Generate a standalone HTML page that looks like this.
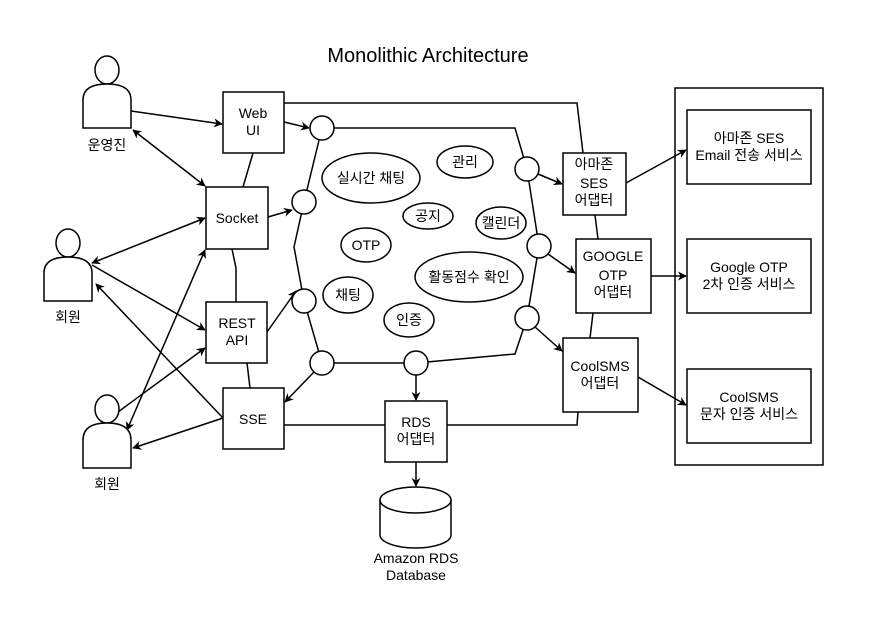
<!DOCTYPE html>
<html><head><meta charset="utf-8"><style>
html,body{margin:0;padding:0;background:#fff;}
svg{display:block;}
text{font-family:"Liberation Sans","Noto Sans CJK KR",sans-serif;fill:#000;}
</style></head><body>
<svg width="874" height="620" viewBox="0 0 874 620" xmlns="http://www.w3.org/2000/svg">
<defs>
<marker id="a" viewBox="0 0 10 10" refX="9" refY="5" markerWidth="9" markerHeight="9" orient="auto-start-reverse" markerUnits="userSpaceOnUse">
<path d="M0,0 L10,5 L0,10 L3,5 z" fill="#000"/>
</marker>
</defs>
<rect width="874" height="620" fill="#fff"/>
<text x="428" y="62" font-size="20" text-anchor="middle">Monolithic Architecture</text>

<g fill="none" stroke="#000" stroke-width="1.5">
<polyline points="284,103 577,103 583,153"/>
<line x1="595" y1="215" x2="598" y2="239"/>
<line x1="593" y1="313" x2="590" y2="338"/>
<polyline points="578,412 577,425 284,425"/>
<line x1="253" y1="153" x2="243" y2="187"/>
<polyline points="232,249 236,268 236,302"/>
<line x1="247" y1="363" x2="250" y2="388"/>
<polyline points="322,128 515,128 527,169 539,246 527,318 515,354 416,363 322,363 304,301 294,247 304,202 322,128"/>
</g>

<g fill="#fff" stroke="#000" stroke-width="1.5">
<ellipse cx="371" cy="178" rx="49" ry="25"/>
<ellipse cx="465" cy="162" rx="28" ry="16"/>
<ellipse cx="428" cy="216" rx="25" ry="13"/>
<ellipse cx="501" cy="223" rx="25" ry="16"/>
<ellipse cx="366" cy="245" rx="25" ry="17"/>
<ellipse cx="469" cy="277" rx="54" ry="25"/>
<ellipse cx="348" cy="295" rx="25" ry="18"/>
<ellipse cx="409" cy="320" rx="25" ry="17"/>
</g>
<g font-size="14" text-anchor="middle">
<text x="371" y="183">실시간 채팅</text>
<text x="465" y="167">관리</text>
<text x="428" y="221">공지</text>
<text x="501" y="228">캘린더</text>
<text x="366" y="250">OTP</text>
<text x="469" y="282">활동점수 확인</text>
<text x="348" y="300">채팅</text>
<text x="409" y="325">인증</text>
</g>

<g fill="#fff" stroke="#000" stroke-width="1.5">
<rect x="223" y="92" width="61" height="61"/>
<rect x="206" y="187" width="62" height="62"/>
<rect x="206" y="302" width="61" height="61"/>
<rect x="223" y="388" width="61" height="61"/>
<rect x="385" y="401" width="62" height="61"/>
<rect x="563" y="153" width="63" height="62"/>
<rect x="576" y="239" width="75" height="74"/>
<rect x="563" y="338" width="75" height="74"/>
<rect x="675" y="88" width="148" height="377" fill="none"/>
<rect x="687" y="110" width="124" height="74"/>
<rect x="687" y="239" width="124" height="74"/>
<rect x="687" y="369" width="124" height="74"/>
</g>

<g fill="none" stroke="#000" stroke-width="1.5">
<line x1="131" y1="111" x2="222" y2="124" marker-end="url(#a)"/>
<line x1="133" y1="130" x2="205" y2="186" marker-start="url(#a)" marker-end="url(#a)"/>
<line x1="92" y1="263" x2="205" y2="218" marker-start="url(#a)" marker-end="url(#a)"/>
<line x1="92" y1="265" x2="205" y2="330" marker-end="url(#a)"/>
<line x1="223" y1="418" x2="96" y2="284" marker-end="url(#a)"/>
<line x1="118" y1="412" x2="205" y2="348" marker-end="url(#a)"/>
<path d="M127,430 Q170,330 205,250" marker-start="url(#a)" marker-end="url(#a)"/>
<line x1="223" y1="418" x2="133" y2="448" marker-end="url(#a)"/>
<line x1="284" y1="122" x2="309" y2="128" marker-end="url(#a)"/>
<line x1="268" y1="217" x2="292" y2="210" marker-end="url(#a)"/>
<line x1="267" y1="332" x2="296" y2="291" marker-end="url(#a)"/>
<line x1="314" y1="372" x2="285" y2="402" marker-end="url(#a)"/>
<line x1="416" y1="375" x2="416" y2="400" marker-end="url(#a)"/>
<line x1="416" y1="462" x2="416" y2="486" marker-end="url(#a)"/>
<line x1="538" y1="174" x2="562" y2="184" marker-end="url(#a)"/>
<line x1="548" y1="254" x2="575" y2="273" marker-end="url(#a)"/>
<line x1="535" y1="327" x2="562" y2="351" marker-end="url(#a)"/>
<line x1="626" y1="183" x2="686" y2="150" marker-end="url(#a)"/>
<line x1="651" y1="276" x2="686" y2="276" marker-end="url(#a)"/>
<line x1="638" y1="377" x2="686" y2="405" marker-end="url(#a)"/>
</g>

<g fill="#fff" stroke="#000" stroke-width="1.5">
<circle cx="322" cy="128" r="12"/>
<circle cx="304" cy="202" r="12"/>
<circle cx="304" cy="301" r="12"/>
<circle cx="322" cy="363" r="12"/>
<circle cx="416" cy="363" r="12"/>
<circle cx="527" cy="169" r="12"/>
<circle cx="539" cy="246" r="12"/>
<circle cx="527" cy="318" r="12"/>
</g>

<g font-size="14" text-anchor="middle">
<text x="253" y="118">Web</text><text x="253" y="135">UI</text>
<text x="237" y="223">Socket</text>
<text x="237" y="328">REST</text><text x="237" y="345">API</text>
<text x="253" y="424">SSE</text>
<text x="416" y="427">RDS</text><text x="416" y="444">어댑터</text>
<text x="594" y="169">아마존</text><text x="594" y="188">SES</text><text x="594" y="205">어댑터</text>
<text x="613" y="261">GOOGLE</text><text x="613" y="280">OTP</text><text x="613" y="297">어댑터</text>
<text x="600" y="371">CoolSMS</text><text x="600" y="388">어댑터</text>
<text x="749" y="143">아마존 SES</text><text x="749" y="160">Email 전송 서비스</text>
<text x="749" y="272">Google OTP</text><text x="749" y="289">2차 인증 서비스</text>
<text x="749" y="402">CoolSMS</text><text x="749" y="419">문자 인증 서비스</text>
<text x="416" y="563">Amazon RDS</text><text x="416" y="580">Database</text>
<text x="107" y="150">운영진</text>
<text x="68" y="322">회원</text>
<text x="107" y="489">회원</text>
</g>

<g fill="#fff" stroke="#000" stroke-width="1.5">
<path d="M380,500 A35.5,13 0 0 1 451,500 L451,535 A35.5,13 0 0 1 380,535 Z"/>
<path d="M380,500 A35.5,13 0 0 0 451,500" fill="none"/>
</g>

<g fill="#fff" stroke="#000" stroke-width="1.5">
<ellipse cx="107" cy="70" rx="12" ry="14"/>
<path d="M83,128 L83,100 Q83,84 107,84 Q131,84 131,100 L131,128 Z"/>
<ellipse cx="68" cy="243" rx="12" ry="14"/>
<path d="M44,301 L44,273 Q44,257 68,257 Q92,257 92,273 L92,301 Z"/>
<ellipse cx="107" cy="409" rx="12" ry="14"/>
<path d="M83,468 L83,440 Q83,423 107,423 Q131,423 131,440 L131,468 Z"/>
</g>
</svg>
</body></html>
